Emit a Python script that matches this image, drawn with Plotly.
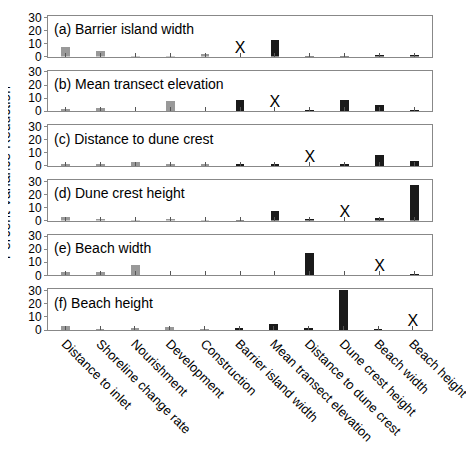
import plotly.graph_objects as go
from plotly.subplots import make_subplots

categories = ["Distance to inlet", "Shoreline change rate", "Nourishment", "Development",
              "Construction", "Barrier island width", "Mean transect elevation",
              "Distance to dune crest", "Dune crest height", "Beach width", "Beach height"]
titles = ["(a) Barrier island width", "(b) Mean transect elevation", "(c) Distance to dune crest",
          "(d) Dune crest height", "(e) Beach width", "(f) Beach height"]
vals_a = [7, 4, 0.3, 0.3, 2, None, 13, 0.3, 0.3, 0.5, 1]
vals_b = [2, 3, 0.3, 8, 0.3, 9, None, 0.5, 9, 5, 0.5]
vals_c = [1, 1.5, 2.5, 0.5, 1.2, 0.5, 1.2, None, 1.2, 8, 3.5]
vals_d = [3, 1, 0.3, 0.8, 0.2, 0.2, 7, 1, None, 2, 27]
vals_e = [2.5, 2.5, 8, 0.3, 0.2, 0.3, 0.2, 17, 0.2, None, 1]
vals_f = [3, 0.2, 1, 2, 0.2, 0.5, 4, 0.8, 30, 0.2, None]
panels = [vals_a, vals_b, vals_c, vals_d, vals_e, vals_f]

colors = ["#999999"] * 5 + ["#1a1a1a"] * 6

fig = make_subplots(rows=6, cols=1, shared_xaxes=False, vertical_spacing=0.045)
for i, vals in enumerate(panels):
    r = i + 1
    fig.add_trace(go.Bar(x=categories, y=vals, marker_color=colors, width=0.25,
                         marker_line_width=0), row=r, col=1)
    fig.add_trace(go.Scatter(x=[categories[5 + i]], y=[6], mode="text", text=["X"],
                             textfont=dict(size=16, color="black")), row=r, col=1)
    fig.add_annotation(text=titles[i], xref="x%s domain" % ("" if r == 1 else r),
                       yref="y%s domain" % ("" if r == 1 else r), x=0.01, y=0.92,
                       xanchor="left", yanchor="top", showarrow=False,
                       font=dict(size=14, color="black"))
    fig.update_xaxes(row=r, col=1, showline=True, mirror=True, linecolor="#888",
                     ticks="inside", ticklen=4, tickcolor="#555",
                     showticklabels=(r == 6), tickangle=45, showgrid=False,
                     tickfont=dict(size=13, color="black"))
    fig.update_yaxes(row=r, col=1, range=[0, 31], tickvals=[0, 10, 20, 30],
                     showline=True, mirror=True, linecolor="#888", ticks="outside",
                     ticklen=3, tickcolor="#888", showgrid=False, zeroline=False,
                     tickfont=dict(size=12, color="black"))

fig.add_annotation(text="Percent Variance Reduction", xref="paper", yref="paper",
                   x=-0.085, xanchor="right", y=0.5, textangle=-90, showarrow=False,
                   font=dict(size=14, color="black"))
fig.update_layout(width=474, height=457, showlegend=False, plot_bgcolor="white",
                  paper_bgcolor="white", margin=dict(l=40, r=50, t=3, b=135),
                  font=dict(family="Liberation Sans"), bargap=0)
fig.write_html("out.html")
